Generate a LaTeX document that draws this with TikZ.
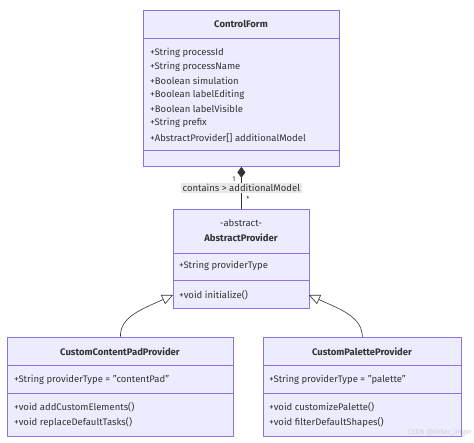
\documentclass[tikz,border=0pt]{standalone}
\usepackage{fontspec}
\setmainfont{Fira Sans}
\usetikzlibrary{arrows.meta}
\definecolor{boxfill}{HTML}{ECECFF}
\definecolor{boxline}{HTML}{9370DB}
\definecolor{txt}{HTML}{333333}
\definecolor{lblbg}{HTML}{E8E8E8}
\definecolor{wm}{HTML}{D0D0D0}
\begin{document}
\begin{tikzpicture}[x=1pt,y=-1pt,
  cbox/.style={draw=boxline, fill=boxfill, line width=0.8pt, inner sep=0pt, anchor=north west},
  divider/.style={draw=boxline, line width=0.8pt},
  ttl/.style={font=\bfseries\fontsize{9.5}{11}\selectfont, text=txt, inner sep=0pt},
  attr/.style={font=\fontsize{9.5}{11}\selectfont, text=txt, anchor=west, inner sep=0pt},
  conn/.style={draw=txt, line width=0.6pt},
  lbl/.style={font=\fontsize{9.5}{11}\selectfont, text=txt, fill=lblbg, inner sep=1.5pt},
  mult/.style={font=\fontsize{7}{8}\selectfont, text=txt, inner sep=0pt},
  gen/.style={conn, -{Triangle[open,fill=white,length=11pt,width=10pt]}}]
\fill[white] (0,0) rectangle (474,442);
\useasboundingbox (0,0) rectangle (474,442);

% ControlForm
\node[cbox, minimum width=196pt, minimum height=156pt] (cf) at (143,10) {};
\draw[divider] (cf.west |- 0,38) -- (cf.east |- 0,38);
\draw[divider] (cf.west |- 0,150) -- (cf.east |- 0,150);
\node[ttl] (cft) at (241,24) {ControlForm};
\node[attr] (cf1) at (150,53) {+String processId};
\node[attr] (cf2) at (150,67) {+String processName};
\node[attr] (cf3) at (150,81) {+Boolean simulation};
\node[attr] (cf4) at (150,95) {+Boolean labelEditing};
\node[attr] (cf5) at (150,109) {+Boolean labelVisible};
\node[attr] (cf6) at (150,123) {+String prefix};
\node[attr] (cf7) at (150,138) {+AbstractProvider[] additionalModel};

% AbstractProvider
\node[cbox, minimum width=136pt, minimum height=99pt] (ap) at (173,209) {};
\draw[divider] (ap.west |- 0,253) -- (ap.east |- 0,253);
\draw[divider] (ap.west |- 0,280) -- (ap.east |- 0,280);
\node[attr, anchor=center] (aps) at (241,223) {-abstract-};
\node[ttl] (apt) at (241,238) {AbstractProvider};
\node[attr] (ap1) at (179,266) {+String providerType};
\node[attr] (ap2) at (179,295) {+void initialize()};

% CustomContentPadProvider
\node[cbox, minimum width=226pt, minimum height=99pt] (ccp) at (7,337) {};
\draw[divider] (ccp.west |- 0,365) -- (ccp.east |- 0,365);
\draw[divider] (ccp.west |- 0,393) -- (ccp.east |- 0,393);
\node[ttl] (ccpt) at (120,352) {CustomContentPadProvider};
\node[attr] (ccp1) at (14,380) {+String providerType = "contentPad"};
\node[attr] (ccp2) at (14,407) {+void addCustomElements()};
\node[attr] (ccp3) at (14,422) {+void replaceDefaultTasks()};

% CustomPaletteProvider
\node[cbox, minimum width=198pt, minimum height=99pt] (cpp) at (263,337) {};
\draw[divider] (cpp.west |- 0,365) -- (cpp.east |- 0,365);
\draw[divider] (cpp.west |- 0,393) -- (cpp.east |- 0,393);
\node[ttl] (cppt) at (362,352) {CustomPaletteProvider};
\node[attr] (cpp1) at (269,380) {+String providerType = "palette"};
\node[attr] (cpp2) at (269,407) {+void customizePalette()};
\node[attr] (cpp3) at (269,422) {+void filterDefaultShapes()};

% composition
\draw[conn, {Diamond[length=11pt,width=8pt]}-] (cf.south) -- (ap.north)
  node[pos=0.5, lbl] (clbl) {contains > additionalModel};
\node[mult] (m1) at (234,179) {1};
\node[mult] (m2) at (248,199) {*};

% inheritance
\coordinate (apL) at (173,295);
\coordinate (apR) at (309,295);
\draw[gen] (ccp.north) .. controls (120,317) and (140,310) .. (apL);
\draw[gen] (cpp.north) .. controls (362,317) and (342,310) .. (apR);

\node[font=\fontsize{7}{8}\selectfont, text=wm, anchor=east, inner sep=0pt] (wmk) at (472,433) {CSDN @GISer\_linger};
\end{tikzpicture}
\end{document}
